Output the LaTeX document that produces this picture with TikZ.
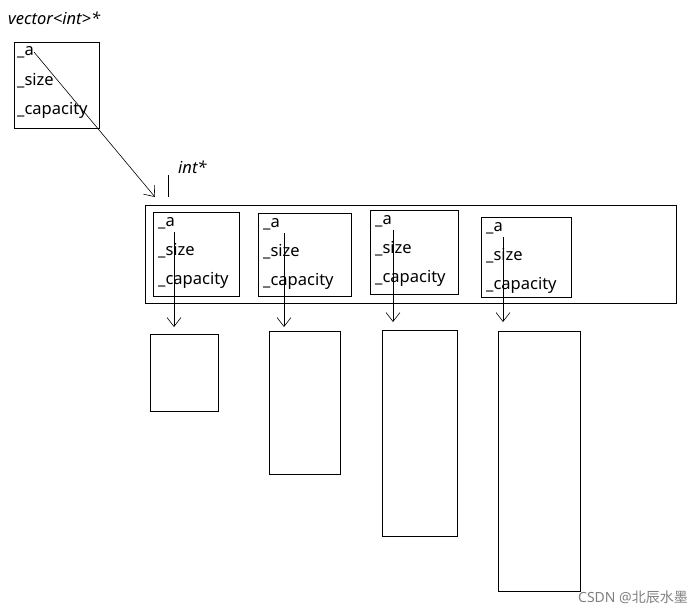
\documentclass[tikz,border=0pt]{standalone}
\usepackage{fontspec}
\setmainfont{Noto Sans}
\newfontfamily\cjk{Noto Sans CJK SC}
\usetikzlibrary{arrows.meta}
\begin{document}
\begin{tikzpicture}[x=1pt,y=-1pt,
  bx/.style={draw,line width=0.8pt},
  lbl/.style={anchor=west,inner sep=0pt,font=\fontsize{16.5}{18}\selectfont},
  ar/.style={line width=0.6pt,-{Straight Barb[length=9pt,width=14pt]}}]
\useasboundingbox (0,0) rectangle (693,614);
\node[lbl,font=\fontsize{16.5}{18}\selectfont\itshape] (t1) at (8,18) {vector<int>*};
\draw[bx] (14,42) rectangle (99,128);
\node[lbl] (a0) at (17,52) {\_a};
\node[lbl] at (17,81) {\_size};
\node[lbl] at (17,110) {\_capacity};
\node[lbl,font=\fontsize{16.5}{18}\selectfont\itshape] (t2) at (178,167) {int*};
\coordinate (p0) at (155,197);
\draw[ar] (a0.east) -- (p0);
\draw[line width=0.6pt] (168,175) -- (168,197);
\draw[bx] (145,205) rectangle (676,303);
\foreach \x/\y/\w/\h/\ax/\bh [count=\i] in {153/212/239/296/174/327,258/213/351/296/284/327,370/210/458/294/393/322,481/217/571/297/503/322}{
  \draw[bx] (\x,\y) rectangle (\w,\h);
  \node[lbl] (na\i) at (\x+5,\y+11) {\_a};
  \node[lbl] at (\x+5,\y+39) {\_size};
  \node[lbl] at (\x+5,\y+68) {\_capacity};
  \coordinate (s\i) at (\ax,\y+20);
  \coordinate (e\i) at (\ax,\bh);
  \draw[ar] (s\i) -- (e\i);
}
\draw[bx] (150,334) rectangle (218,411);
\draw[bx] (269,331) rectangle (340,474);
\draw[bx] (382,330) rectangle (457,536);
\draw[bx] (498,331) rectangle (580,591);
\node[anchor=east,inner sep=0pt,text=gray,font=\fontsize{14}{16}\selectfont] (wm) at (688,597) {CSDN @{\cjk 北辰水墨}};
\end{tikzpicture}
\end{document}
